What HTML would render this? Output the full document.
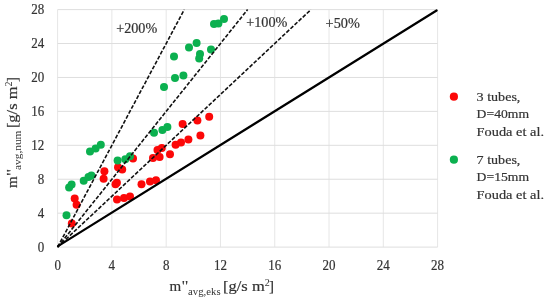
<!DOCTYPE html>
<html><head><meta charset="utf-8"><title>chart</title>
<style>
html,body{margin:0;padding:0;background:#fff;}
svg{display:block;}
text{font-family:"Liberation Serif","DejaVu Serif",serif;fill:#333;stroke:#333;stroke-width:0.2px;}
.tk{font-size:13.9px;}
.lg{font-size:13.6px;}.lt{font-size:13px;}
.ax{font-size:15px;}
.sub{font-size:10px;stroke:none;}
</style></head><body>
<svg width="550" height="301" viewBox="0 0 550 301">
<rect width="550" height="301" fill="#fff"/>
<path d="M57.60 9.6V247.1M111.89 9.6V247.1M166.17 9.6V247.1M220.46 9.6V247.1M274.74 9.6V247.1M329.03 9.6V247.1M383.31 9.6V247.1M437.60 9.6V247.1" stroke="#e6e6e6" stroke-width="1" fill="none"/>
<path d="M57.6 247.10H437.6M57.6 213.17H437.6M57.6 179.24H437.6M57.6 145.31H437.6M57.6 111.39H437.6M57.6 77.46H437.6M57.6 43.53H437.6M57.6 9.60H437.6" stroke="#dedede" stroke-width="1" fill="none"/>
<g fill="#fc0808"><circle cx="71.8" cy="223.5" r="4.0"/><circle cx="74.7" cy="198.5" r="4.0"/><circle cx="76.6" cy="204.8" r="4.0"/><circle cx="104.4" cy="171.2" r="4.0"/><circle cx="103.6" cy="178.8" r="4.0"/><circle cx="118" cy="167.3" r="4.0"/><circle cx="122.2" cy="169.6" r="4.0"/><circle cx="116.9" cy="182.8" r="4.0"/><circle cx="115.5" cy="184.3" r="4.0"/><circle cx="117" cy="199.4" r="4.0"/><circle cx="124" cy="198" r="4.0"/><circle cx="130" cy="196.6" r="4.0"/><circle cx="133" cy="158.5" r="4.0"/><circle cx="141.5" cy="184.2" r="4.0"/><circle cx="150" cy="181.6" r="4.0"/><circle cx="156" cy="180.2" r="4.0"/><circle cx="153" cy="158" r="4.0"/><circle cx="159.6" cy="157" r="4.0"/><circle cx="170" cy="154.2" r="4.0"/><circle cx="157.5" cy="150" r="4.0"/><circle cx="161.8" cy="148" r="4.0"/><circle cx="175.6" cy="144.8" r="4.0"/><circle cx="181" cy="142.4" r="4.0"/><circle cx="188.4" cy="139.4" r="4.0"/><circle cx="200.4" cy="135.6" r="4.0"/><circle cx="182.6" cy="124" r="4.0"/><circle cx="197.4" cy="120.6" r="4.0"/><circle cx="209.2" cy="116.8" r="4.0"/></g>
<g fill="#0bb04f"><circle cx="66.5" cy="215.2" r="4.0"/><circle cx="69.1" cy="187.5" r="4.0"/><circle cx="71.6" cy="184.5" r="4.0"/><circle cx="83.7" cy="180.7" r="4.0"/><circle cx="88.5" cy="177" r="4.0"/><circle cx="91.4" cy="175.4" r="4.0"/><circle cx="90" cy="151.6" r="4.0"/><circle cx="95.6" cy="148.4" r="4.0"/><circle cx="100.8" cy="144.8" r="4.0"/><circle cx="117.6" cy="160.5" r="4.0"/><circle cx="125.3" cy="159.3" r="4.0"/><circle cx="130" cy="156.3" r="4.0"/><circle cx="154" cy="132.7" r="4.0"/><circle cx="162.4" cy="130" r="4.0"/><circle cx="167.4" cy="127" r="4.0"/><circle cx="164" cy="87" r="4.0"/><circle cx="175" cy="78" r="4.0"/><circle cx="183.4" cy="75.4" r="4.0"/><circle cx="174" cy="56.4" r="4.0"/><circle cx="189" cy="47.6" r="4.0"/><circle cx="196.6" cy="43" r="4.0"/><circle cx="200" cy="54" r="4.0"/><circle cx="199.2" cy="58.4" r="4.0"/><circle cx="211" cy="49.6" r="4.0"/><circle cx="214" cy="24" r="4.0"/><circle cx="218.4" cy="23.6" r="4.0"/><circle cx="224" cy="19" r="4.0"/></g>
<line x1="57.60" y1="247.10" x2="310.93" y2="9.60" stroke="#111" stroke-width="1.6" stroke-dasharray="3.9 1.7"/>
<line x1="57.60" y1="247.10" x2="247.60" y2="9.60" stroke="#111" stroke-width="1.6" stroke-dasharray="3.9 1.7"/>
<line x1="57.60" y1="247.10" x2="184.27" y2="9.60" stroke="#111" stroke-width="1.6" stroke-dasharray="3.9 1.7"/>
<line x1="58.0" y1="246.1" x2="436.6" y2="10.5" stroke="#000" stroke-width="2.2" stroke-linecap="round"/>
<text class="tk" x="54.4" y="270.4" textLength="6.5" lengthAdjust="spacingAndGlyphs">0</text><text class="tk" x="37.7" y="251.5" textLength="6.5" lengthAdjust="spacingAndGlyphs">0</text>
<text class="tk" x="108.6" y="270.4" textLength="6.5" lengthAdjust="spacingAndGlyphs">4</text><text class="tk" x="37.7" y="217.6" textLength="6.5" lengthAdjust="spacingAndGlyphs">4</text>
<text class="tk" x="162.9" y="270.4" textLength="6.5" lengthAdjust="spacingAndGlyphs">8</text><text class="tk" x="37.7" y="183.6" textLength="6.5" lengthAdjust="spacingAndGlyphs">8</text>
<text class="tk" x="214.0" y="270.4" textLength="13.0" lengthAdjust="spacingAndGlyphs">12</text><text class="tk" x="31.2" y="149.7" textLength="13.0" lengthAdjust="spacingAndGlyphs">12</text>
<text class="tk" x="268.2" y="270.4" textLength="13.0" lengthAdjust="spacingAndGlyphs">16</text><text class="tk" x="31.2" y="115.8" textLength="13.0" lengthAdjust="spacingAndGlyphs">16</text>
<text class="tk" x="322.5" y="270.4" textLength="13.0" lengthAdjust="spacingAndGlyphs">20</text><text class="tk" x="31.2" y="81.9" textLength="13.0" lengthAdjust="spacingAndGlyphs">20</text>
<text class="tk" x="376.8" y="270.4" textLength="13.0" lengthAdjust="spacingAndGlyphs">24</text><text class="tk" x="31.2" y="47.9" textLength="13.0" lengthAdjust="spacingAndGlyphs">24</text>
<text class="tk" x="431.1" y="270.4" textLength="13.0" lengthAdjust="spacingAndGlyphs">28</text><text class="tk" x="31.2" y="14.0" textLength="13.0" lengthAdjust="spacingAndGlyphs">28</text>
<text class="lg" x="116.2" y="33.1" textLength="41" lengthAdjust="spacingAndGlyphs">+200%</text><text class="lg" x="246.2" y="27.0" textLength="41.2" lengthAdjust="spacingAndGlyphs">+100%</text><text class="lg" x="325.6" y="28.3" textLength="34.2" lengthAdjust="spacingAndGlyphs">+50%</text>
<circle cx="453.9" cy="96.7" r="4.1" fill="#fc0808"/><circle cx="453.9" cy="159.7" r="4.1" fill="#0bb04f"/>
<text class="lt" x="476.6" y="101" textLength="43.8" lengthAdjust="spacingAndGlyphs">3 tubes,</text><text class="lt" x="476.6" y="118.4" textLength="52.4" lengthAdjust="spacingAndGlyphs">D=40mm</text><text class="lt" x="476.6" y="135.6" textLength="67.4" lengthAdjust="spacingAndGlyphs">Fouda et al.</text>
<text class="lt" x="476.6" y="164" textLength="43.8" lengthAdjust="spacingAndGlyphs">7 tubes,</text><text class="lt" x="476.6" y="181.4" textLength="52.4" lengthAdjust="spacingAndGlyphs">D=15mm</text><text class="lt" x="476.6" y="198.6" textLength="67.4" lengthAdjust="spacingAndGlyphs">Fouda et al.</text>
<g transform="translate(169.4,290.7)"><text class="ax" x="0" y="0">m</text><text class="ax" x="12.6" y="0" letter-spacing="0.6">''</text><text class="sub" x="18.7" y="3.8" textLength="32.5" lengthAdjust="spacingAndGlyphs">avg,eks</text><text class="ax" x="53.7" y="0" textLength="41.6" lengthAdjust="spacingAndGlyphs">[g/s m</text><text class="sub" x="95.3" y="-4.7">2</text><text class="ax" x="99.7" y="0">]</text></g>
<g transform="translate(16.6,188) rotate(-90)"><text class="ax" x="0" y="0">m</text><text class="ax" x="12.6" y="0" letter-spacing="0.6">''</text><text class="sub" x="18.0" y="4.2" textLength="39.4" lengthAdjust="spacingAndGlyphs">avg,num</text><text class="ax" x="59.9" y="0" textLength="41.6" lengthAdjust="spacingAndGlyphs">[g/s m</text><text class="sub" x="101.5" y="-4.7">2</text><text class="ax" x="105.9" y="0">]</text></g>
</svg></body></html>
